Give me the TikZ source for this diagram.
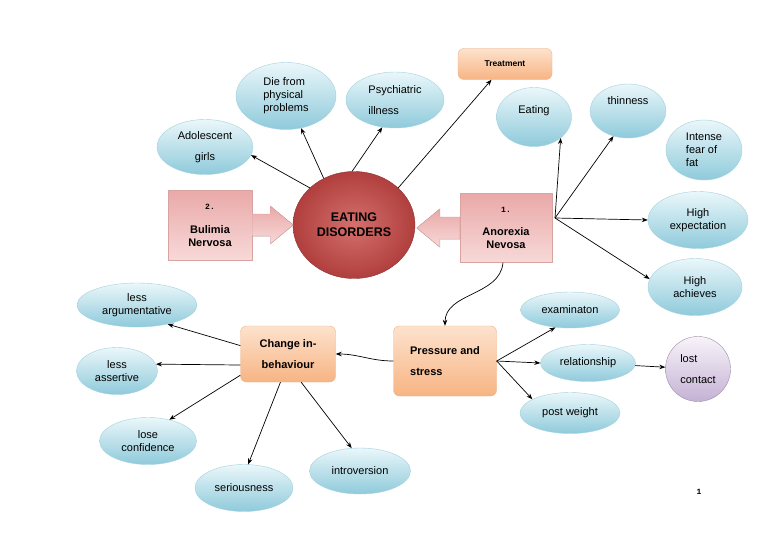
\documentclass[tikz,border=0pt]{standalone}
\usepackage{fontspec}
\setmainfont{Liberation Sans}
\setmonofont{Liberation Mono}
\usetikzlibrary{arrows.meta,shapes.geometric}

\definecolor{bubtop}{HTML}{EAF7FA}
\definecolor{bubbot}{HTML}{8FCADB}
\definecolor{bubline}{HTML}{A3D2DF}
\definecolor{pinktop}{HTML}{E9A9A8}
\definecolor{pinkbot}{HTML}{F7D9D8}
\definecolor{pinkline}{HTML}{D9A3A2}
\definecolor{orgtop}{HTML}{FDE2CD}
\definecolor{orgbot}{HTML}{F7B483}
\definecolor{orgline}{HTML}{EFB38A}
\definecolor{edin}{HTML}{D4706D}
\definecolor{edout}{HTML}{B03F3D}
\definecolor{purtop}{HTML}{F8F4FA}
\definecolor{purbot}{HTML}{C4B1D4}

\begin{document}
\begin{tikzpicture}[x=1pt,y=-1pt,
  bubble/.style={ellipse,draw=bubline,top color=bubtop,bottom color=bubbot,inner sep=0pt,
    font=\fontsize{11}{13}\selectfont,align=center},
  pinkbox/.style={rectangle,draw=pinkline,top color=pinktop,bottom color=pinkbot,inner sep=0pt,
    font=\fontsize{11}{13}\selectfont\bfseries,align=center},
  orgbox/.style={rectangle,rounded corners=6pt,draw=orgline,top color=orgtop,bottom color=orgbot,
    inner sep=0pt,font=\fontsize{11}{13}\selectfont\bfseries},
  conn/.style={-{Stealth[length=6pt,width=4.5pt]},line width=0.7pt},
  num/.style={font=\fontsize{8}{9}\selectfont\ttfamily\bfseries}]
  \fill[white] (0,0) rectangle (768,543);
  \useasboundingbox (0,0) rectangle (768,543);

  % centre and the two kinds
  \node[ellipse,draw=edout!80!black,inner color=edin,outer color=edout,minimum width=122,minimum height=107,
    font=\fontsize{12.5}{15}\selectfont\bfseries,align=center] (ed) at (354,225) {EATING\\DISORDERS};
  \node[pinkbox,minimum width=84,minimum height=70] (bul) at (210,225)
    {{\fontsize{8}{9}\selectfont\ttfamily 2.}\\[11pt]Bulimia\\Nervosa};
  \node[pinkbox,minimum width=92,minimum height=69] (ano) at (506,228)
    {{\fontsize{8}{9}\selectfont\ttfamily 1.}\\[10pt]Anorexia\\Nevosa};
  \fill[top color=pinktop,bottom color=pinkbot,draw=pinkline] (bul.east) ++(0,-11) -- ++(18,0) -- ++(0,-8)
    -- ++(23,19) -- ++(-23,19) -- ++(0,-8) -- ++(-18,0) -- cycle;
  \fill[top color=pinktop,bottom color=pinkbot,draw=pinkline] (ano.west) ++(0,-11) -- ++(-20,0) -- ++(0,-8)
    -- ++(-23,19) -- ++(23,19) -- ++(0,-8) -- ++(20,0) -- cycle;

  % top
  \node[orgbox,minimum width=94,minimum height=31,font=\fontsize{8.5}{10}\selectfont\bfseries] (treat) at (505,64) {Treatment};
  \node[bubble,minimum width=100,minimum height=67,align=left] (die) at (286,96) {Die from\\physical\\problems\hspace{10pt}};
  \node[bubble,minimum width=98,minimum height=56,align=left] (psy) at (395,100) {Psychiatric\\[8pt]illness};
  \node[bubble,minimum width=96,minimum height=55] (ado) at (205,147) {Adolescent\\[8pt]girls};

  % anorexia side
  \coordinate (hub) at (555,218);
  \node[bubble,minimum width=75,minimum height=59] (eat) at (534,117) {Eating\\[1pt]\mbox{}};
  \node[bubble,minimum width=76,minimum height=54] (thin) at (628,111) {thinness\\[7pt]\mbox{}};
  \node[bubble,minimum width=76,minimum height=60,align=left] (fear) at (704,150) {Intense\\fear of\\fat};
  \node[bubble,minimum width=100,minimum height=57] (hexp) at (698,220) {High\\expectation};
  \node[bubble,minimum width=94,minimum height=57] (hach) at (695,287) {High\\achieves};

  % pressure
  \node[orgbox,minimum width=103,minimum height=70,align=left] (pre) at (445,361) {Pressure and\\[8pt]stress};
  \node[bubble,minimum width=99,minimum height=36] (exam) at (570,310) {examinaton};
  \node[bubble,minimum width=95,minimum height=37] (rel) at (588,363) {relationship};
  \node[bubble,minimum width=100,minimum height=41] (post) at (570,413) {post weight};
  \node[circle,draw=purbot!80!black,top color=purtop,bottom color=purbot,minimum size=65,inner sep=0pt,
    font=\fontsize{11}{13}\selectfont,align=left] (lost) at (698,369) {lost\\[8pt]contact};

  % behaviour
  \node[orgbox,minimum width=95,minimum height=56,align=center] (chg) at (288,354) {Change in-\\[8pt]behaviour};
  \node[bubble,minimum width=120,minimum height=44] (arg) at (137,305) {less\\argumentative};
  \node[bubble,minimum width=81,minimum height=47] (ass) at (117,371) {less\\assertive};
  \node[bubble,minimum width=97,minimum height=47] (conf) at (148,441) {lose\\confidence};
  \node[bubble,minimum width=98,minimum height=47] (ser) at (244,488) {seriousness};
  \node[bubble,minimum width=101,minimum height=46] (intr) at (360,471) {introversion};

  \node[num] (pg) at (699,492) {1};

  % connectors
  \draw[conn] (ed.140) -- (ado.-10);
  \draw[conn] (ed.123) -- (die.-65);
  \draw[conn] (ed.92) -- (psy.-115);
  \draw[conn] (ed.40) -- (treat);
  \draw[conn] (hub) -- (eat.south east);
  \draw[conn] (hub) -- (thin.-120);
  \draw[conn] (hub) -- (hexp.west);
  \draw[conn] (hub) -- (hach.170);
  \draw[conn] (ano.-95) to[out=-95,in=90] (pre.north);
  \draw[conn] (pre.east) -- (exam.-130);
  \draw[conn] (pre.east) -- (rel.west);
  \draw[conn] (pre.east) -- (post.160);
  \draw[conn] (rel) -- (lost);
  \draw[conn] (pre.west) to[out=180,in=0] (chg.east);
  \draw[conn] (chg.170) -- (arg.-32);
  \draw[conn] (chg.193) -- (ass.10);
  \draw[conn] (chg.204) -- (conf.45);
  \draw[conn] (chg.255) -- (ser.80);
  \draw[conn] (chg.295) -- (intr.110);
\end{tikzpicture}
\end{document}
